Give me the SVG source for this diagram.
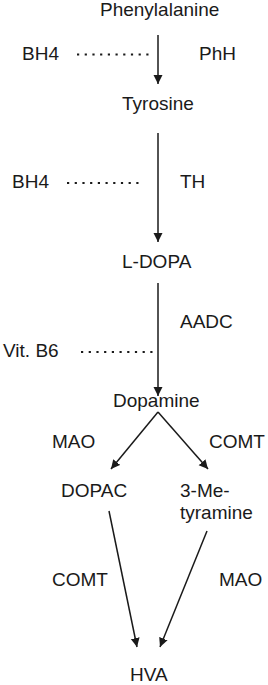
<svg xmlns="http://www.w3.org/2000/svg" width="268" height="685" viewBox="0 0 268 685">
<style>
text{font-family:"Liberation Sans",Arial,sans-serif;font-size:19px;fill:#1a1a1a}
.c{stroke:#1a1a1a;stroke-width:1.5;fill:none}
.d{stroke:#1a1a1a;stroke-width:2.2;stroke-dasharray:2.2 5.5;fill:none}
</style>
<defs>
<marker id="ah" viewBox="0 0 10 10" refX="10" refY="5" markerWidth="9" markerHeight="10" markerUnits="userSpaceOnUse" orient="auto">
<path d="M0,0 L10,5 L0,10 z" fill="#1a1a1a"/>
</marker>
</defs>
<rect width="268" height="685" fill="#fff"/>
<g id="connectors">
<line class="c" x1="158" y1="35" x2="158" y2="84" marker-end="url(#ah)"/>
<line class="c" x1="158" y1="133" x2="158" y2="242" marker-end="url(#ah)"/>
<line class="c" x1="158" y1="283" x2="158" y2="396" marker-end="url(#ah)"/>
<line class="c" x1="158" y1="412" x2="111" y2="469" marker-end="url(#ah)"/>
<line class="c" x1="158" y1="412" x2="208" y2="469" marker-end="url(#ah)"/>
<line class="c" x1="109" y1="511" x2="137" y2="647" marker-end="url(#ah)"/>
<line class="c" x1="207" y1="531" x2="160" y2="647" marker-end="url(#ah)"/>
<line class="d" x1="77" y1="54.5" x2="149" y2="54.5"/>
<line class="d" x1="67" y1="183" x2="139" y2="183"/>
<line class="d" x1="81" y1="352" x2="153" y2="352"/>
</g>
<g id="phenylalanine"><text x="100" y="16">Phenylalanine</text></g>
<g id="tyrosine"><text x="122" y="110">Tyrosine</text></g>
<g id="ldopa"><text x="122" y="268">L-DOPA</text></g>
<g id="dopamine"><text x="113" y="407">Dopamine</text></g>
<g id="dopac"><text x="61" y="497">DOPAC</text></g>
<g id="methyltyramine"><text x="180" y="497">3-Me-</text><text x="180" y="519">tyramine</text></g>
<g id="hva"><text x="130" y="681">HVA</text></g>
<g id="labels">
<text x="22" y="60">BH4</text>
<text x="199" y="60">PhH</text>
<text x="12" y="188">BH4</text>
<text x="180" y="188">TH</text>
<text x="180" y="328">AADC</text>
<text x="3" y="357">Vit. B6</text>
<text x="52" y="448">MAO</text>
<text x="209" y="448">COMT</text>
<text x="52" y="586">COMT</text>
<text x="219" y="586">MAO</text>
</g>
</svg>
